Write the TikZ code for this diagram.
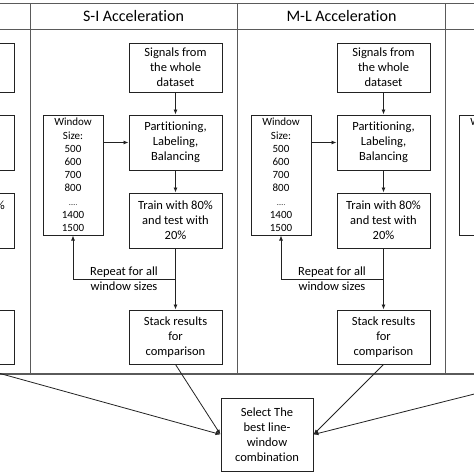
\documentclass[tikz,border=0pt]{standalone}
\usepackage{fontspec}
\setmainfont{Carlito}[Ligatures=NoCommon]
\usetikzlibrary{arrows.meta}
\definecolor{boxline}{HTML}{222222}
\definecolor{laneline}{HTML}{5A5A5A}
\tikzset{
  procbox/.style={draw=boxline, line width=1pt, align=center, inner sep=0pt,
    minimum width=93pt, font=\fontsize{12.5}{15}\selectfont},
  winbox/.style={draw=boxline, line width=1pt, align=center, inner sep=0pt,
    minimum width=60pt, minimum height=120pt, font=\fontsize{11}{13.2}\selectfont},
  flow/.style={draw=boxline, line width=0.8pt, -{Latex[length=5pt,width=4pt]}},
  plainflow/.style={draw=boxline, line width=0.8pt},
  laneln/.style={draw=laneline, line width=0.9pt},
  header/.style={font=\fontsize{16}{19}\selectfont, inner sep=0pt},
  note/.style={align=center, inner sep=0pt, font=\fontsize{12.5}{15}\selectfont},
}
\newcommand\lanepic[3]{%
  \begin{scope}[xshift=#1pt]
    \node[header] (head#2) at (133.5,16.5) {#3};
    \node[procbox, minimum height=49pt] (sig#2) at (175.5,67.5) {Signals from\\the whole\\dataset};
    \node[procbox, minimum height=55pt] (part#2) at (175.5,142.5) {Partitioning,\\Labeling,\\Balancing};
    \node[winbox] (win#2) at (73,175) {Window\\Size:\\500\\600\\700\\800\\{\fontsize{7}{13.2}\selectfont .....}\\1400\\1500};
    \node[procbox, minimum height=55pt] (train#2) at (175.5,220.5) {Train with 80\%\\and test with\\20\%};
    \node[procbox, minimum height=54pt] (stack#2) at (175.5,337) {Stack results\\for\\comparison};
    \coordinate (loopA#2) at (175.5,279);
    \coordinate (loopB#2) at (73,279);
    \node[note] (rep#2) at (124,278.5) {Repeat for all\\window sizes};
    \draw[flow] (sig#2) -- (part#2);
    \draw[flow] (win#2.east |- part#2.west) -- (part#2.west);
    \draw[flow] (part#2) -- (train#2);
    \draw[flow] (train#2) -- (stack#2);
    \draw[plainflow] (loopA#2) -- (loopB#2);
    \draw[flow] (loopB#2) -- (win#2.south);
  \end{scope}}
\begin{document}
\begin{tikzpicture}[x=1pt, y=-1pt]
  \useasboundingbox (0,0) rectangle (474,474);
  \clip (0,0) rectangle (474,474);
  % lane frame
  \draw[laneln] (0,3) -- (474,3);
  \draw[laneln] (0,29.5) -- (474,29.5);
  \draw[laneln, line width=1.3pt] (0,374) -- (474,374);
  \draw[laneln] (30,3) -- (30,374);
  \draw[laneln] (237,3) -- (237,374);
  \draw[laneln] (445,3) -- (445,374);
  % lanes
  \lanepic{-208}{L}{}
  \lanepic{0}{S}{S-I Acceleration}
  \lanepic{208}{M}{M-L Acceleration}
  \lanepic{416}{R}{}
  % final selection
  \node[procbox, minimum width=92pt, minimum height=73pt] (select) at (267,434.5)
    {Select The\\best line-\\window\\combination};
  \draw[flow] (stackL.south) -- (select.west);
  \draw[flow] (stackS.south) -- (select.west);
  \draw[flow] (stackM.south) -- (select.east);
  \draw[flow] (stackR.south) -- (select.east);
\end{tikzpicture}
\end{document}
